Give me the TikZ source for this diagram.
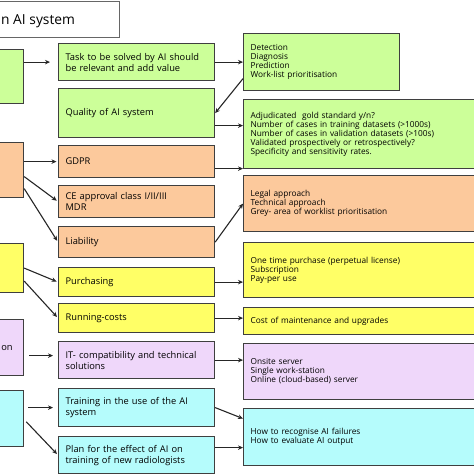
\documentclass[tikz,border=0pt]{standalone}
\usepackage{fontspec}
\setmainfont{Open Sans}
\usetikzlibrary{arrows.meta}
\definecolor{boxgreen}{HTML}{CCFF99}
\definecolor{boxorange}{HTML}{FCC99C}
\definecolor{boxyellow}{HTML}{FFFF66}
\definecolor{boxpurple}{HTML}{EFD7FA}
\definecolor{boxcyan}{HTML}{B5FCFC}
\definecolor{edgegray}{HTML}{3F3F3F}
\newcommand{\midfont}{\fontsize{9.3}{11}\selectfont}
\newcommand{\sidefont}{\fontsize{8.3}{9}\selectfont}
\newcommand{\headfont}{\fontsize{13.8}{16}\selectfont}
\tikzset{
  box/.style={draw=edgegray,line width=1.2pt,inner xsep=7pt,inner ysep=0pt,align=left,anchor=north west},
  leftbox/.style={box,minimum width=110pt,text width=88pt,inner xsep=11pt,align=right,font=\midfont},
  midbox/.style={box,minimum width=156pt,text width=142pt,font=\midfont},
  sidebox/.style={box,minimum width=260pt,text width=246pt,font=\sidefont},
  arr/.style={-{Stealth[length=5pt,width=4.5pt]},line width=1.1pt,black!85}
}

\begin{document}
\begin{tikzpicture}[x=1pt,y=-1pt]
  \useasboundingbox (0,0) rectangle (474,474);
  \clip (0,0) rectangle (474,474);
  % title
  \node[draw=gray!80!black,line width=1.1pt,fill=white,minimum width=180pt,minimum height=36.5pt,anchor=north east] (title) at (120,0.5) {};
  \node[font=\headfont,inner sep=0pt,anchor=base west] (titletext) at (1,24) {n AI system};
  % left column
  \node[leftbox,fill=boxgreen,minimum height=54pt] (lgreen) at (-87,49) {};
  \node[leftbox,fill=boxorange,minimum height=55pt] (lorange) at (-87,142) {};
  \node[leftbox,fill=boxyellow,minimum height=49pt] (lyellow) at (-87,243) {};
  \node[leftbox,fill=boxpurple,minimum height=56pt] (lpurple) at (-87,319) {on};
  \node[leftbox,fill=boxcyan,minimum height=56pt] (lcyan) at (-87,390) {};
  % middle column
  \node[midbox,fill=boxgreen,minimum height=37pt] (task) at (58,43) {Task to be solved by AI should\\be relevant and add value};
  \node[midbox,fill=boxgreen,minimum height=49pt] (quality) at (58,88) {Quality of AI system};
  \node[midbox,fill=boxorange,minimum height=32pt] (gdpr) at (58,145) {GDPR};
  \node[midbox,fill=boxorange,minimum height=32pt] (ce) at (58,185) {CE approval class I/II/III\\MDR};
  \node[midbox,fill=boxorange,minimum height=31pt] (liab) at (58,226) {Liability};
  \node[midbox,fill=boxyellow,minimum height=29pt] (purch) at (58,267) {Purchasing};
  \node[midbox,fill=boxyellow,minimum height=29pt] (run) at (58,303) {Running-costs};
  \node[midbox,fill=boxpurple,minimum height=37pt] (it) at (58,341) {IT- compatibility and technical\\solutions};
  \node[midbox,fill=boxcyan,minimum height=38pt] (train) at (58,388) {Training in the use of the AI\\system};
  \node[midbox,fill=boxcyan,minimum height=37pt] (plan) at (58,436) {Plan for the effect of AI on\\training of new radiologists};
  % right column
  \node[sidebox,fill=boxgreen,minimum height=57pt,minimum width=156pt,text width=142pt] (det) at (243,33) {Detection\\Diagnosis\\Prediction\\Work-list prioritisation};
  \node[sidebox,fill=boxgreen,minimum height=69pt] (adj) at (243,99) {Adjudicated~ gold standard y/n?\\Number of cases in training datasets (>1000s)\\Number of cases in validation datasets (>100s)\\Validated prospectively or retrospectively?\\Specificity and sensitivity rates.};
  \node[sidebox,fill=boxorange,minimum height=56pt] (legal) at (243,175) {Legal approach\\Technical approach\\Grey- area of worklist prioritisation};
  \node[sidebox,fill=boxyellow,minimum height=55pt] (once) at (243,242) {One time purchase (perpetual license)\\Subscription\\Pay-per use};
  \node[sidebox,fill=boxyellow,minimum height=27pt] (cost) at (243,307) {Cost of maintenance and upgrades};
  \node[sidebox,fill=boxpurple,minimum height=56pt] (onsite) at (243,343) {Onsite server\\Single work-station\\Online (cloud-based) server};
  \node[sidebox,fill=boxcyan,minimum height=57pt] (howto) at (243,408) {How to recognise AI failures\\How to evaluate AI output};
  % helper points
  \coordinate (q2) at ([yshift=-12.5pt]quality.east);
  \coordinate (g2) at ([yshift=-7pt]gdpr.east);
  \coordinate (p1) at ([yshift=4.5pt]it.west);
  \coordinate (p2) at ([yshift=7.5pt]plan.east);
  % arrows left -> middle
  \draw[arr,shorten >=8pt] (lgreen.east |- task.west) -- (task.west);
  \draw[arr,shorten >=1.5pt] (lorange.east |- gdpr.west) -- (gdpr.west);
  \draw[arr,shorten >=1.5pt] ([yshift=-6.5pt]lorange.east) -- (ce.west);
  \draw[arr,shorten >=1.5pt] ([yshift=-18.5pt]lorange.east) -- (liab.west);
  \draw[arr,shorten >=1.5pt] (lyellow.east) -- (purch.west);
  \draw[arr,shorten >=1.5pt] ([yshift=-13pt]lyellow.east) -- (run.west);
  \draw[arr,shorten <=5pt,shorten >=5pt] (lpurple.east |- p1) -- (p1);
  \draw[arr,shorten <=4pt,shorten >=5pt] (lcyan.east |- train.west) -- (train.west);
  \draw[arr,shorten <=3pt,shorten >=1.5pt] ([yshift=-1pt]lcyan.east) -- (plan.west);
  % arrows middle -> right
  \draw[arr] (task.east) -- (task.east -| det.west);
  \draw[arr] ([yshift=-16.5pt]det.west) -- (quality.east);
  \draw[arr] (q2) -- (q2 -| adj.west);
  \draw[arr] (g2) -- (g2 -| adj.west);
  \draw[arr] (liab.east) -- (legal.west);
  \draw[arr] (purch.east) -- (purch.east -| once.west);
  \draw[arr] (run.east) -- (run.east -| cost.west);
  \draw[arr] (it.east) -- (it.east -| onsite.west);
  \draw[arr] (train.east) -- ([yshift=18.5pt]howto.west);
  \draw[arr] (p2) -- (p2 -| howto.west);
\end{tikzpicture}
\end{document}
